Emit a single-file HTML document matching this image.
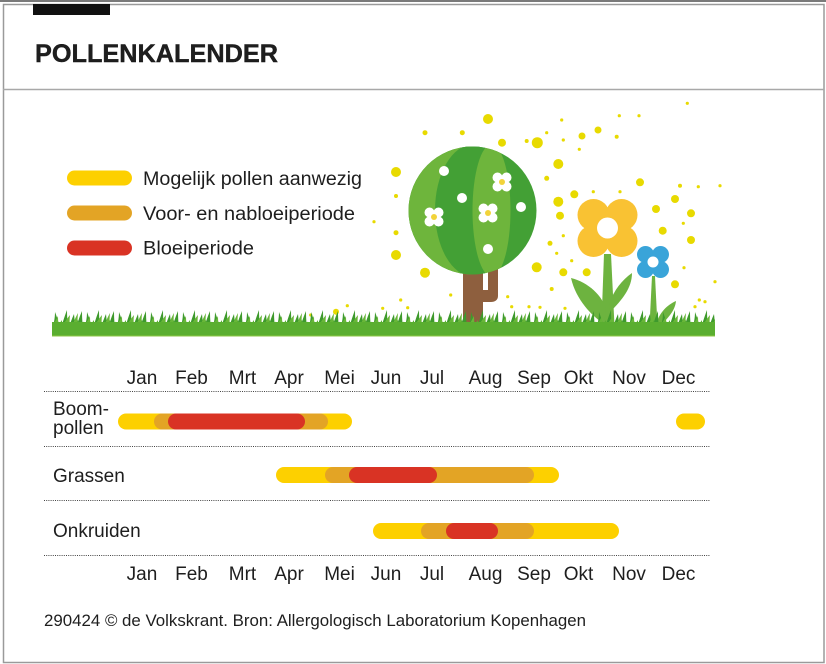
<!DOCTYPE html>
<html><head><meta charset="utf-8"><style>
html,body{margin:0;padding:0;background:#fff;}
svg{display:block;}
text{font-family:"Liberation Sans",sans-serif;fill:#1e1e1e;}
</style></head><body>
<svg width="826" height="664" viewBox="0 0 826 664" xmlns="http://www.w3.org/2000/svg">
<defs>
<pattern id="gd" x="52" y="308" width="32" height="28" patternUnits="userSpaceOnUse">
<path fill="#3E9A2C" d="M-1,28 C1,18 3,12 3,4 C6,12 8,18 9,28 Z M7,28 C10,16 12,10 15,2 C15,12 16,18 17,28 Z M15,28 C17,18 19,13 22,6 C23,15 23,20 24,28 Z M22,28 C25,16 27,10 30,3 C30,14 31,20 33,28 Z"/>
<path fill="#68B638" d="M-3,28 C0,18 3,14 6,8 C6,16 7,20 10,28 Z M8,28 C10,18 13,13 18,7 C17,16 18,21 20,28 Z M18,28 C20,18 22,12 26,5 C25,14 26,20 28,28 Z M27,28 C29,19 31,14 35,9 C34,17 34,21 35,28 Z"/>
<path fill="#57AD30" d="M3,28 C5,21 6,17 10,12 C10,19 11,23 12,28 Z M21,28 C22,21 23,17 26,12 C27,19 27,23 28,28 Z"/>
</pattern>
<clipPath id="cc"><circle cx="472.5" cy="210.5" r="64"/></clipPath>
</defs>

<!-- frame -->
<rect x="0" y="0" width="826" height="2" fill="#7a7a7a"/>
<rect x="3.5" y="4.5" width="820.5" height="658" fill="none" stroke="#9a9a9a" stroke-width="1.5"/>
<line x1="3" y1="89.5" x2="824" y2="89.5" stroke="#a8a8a8" stroke-width="1.5"/>
<rect x="33" y="4" width="77" height="11" fill="#111"/>

<text x="35" y="62" font-size="25" font-weight="bold" fill="#111" stroke="#111" stroke-width="0.4" textLength="243" lengthAdjust="spacingAndGlyphs">POLLENKALENDER</text>

<!-- legend -->
<g stroke-linecap="round" stroke-width="15">
<line x1="74.5" y1="178" x2="124.5" y2="178" stroke="#FDD000"/>
<line x1="74.5" y1="213" x2="124.5" y2="213" stroke="#E3A425"/>
<line x1="74.5" y1="248" x2="124.5" y2="248" stroke="#D93324"/>
</g>
<text x="143" y="185" font-size="19" textLength="219" lengthAdjust="spacingAndGlyphs">Mogelijk pollen aanwezig</text>
<text x="143" y="220" font-size="19" textLength="212" lengthAdjust="spacingAndGlyphs">Voor- en nabloeiperiode</text>
<text x="143" y="254.5" font-size="19" textLength="111" lengthAdjust="spacingAndGlyphs">Bloeiperiode</text>

<!-- tree -->
<path d="M463,272 L483,272 L483,290 L488,290 L488,268 L498,268 L498,296 C498,300 495,302 491,302 L483,302 L483,332 L463,332 Z" fill="#8E5F3E"/>
<g clip-path="url(#cc)">
<rect x="400" y="140" width="150" height="140" fill="#43A035"/>
<rect x="400" y="140" width="73" height="140" fill="#6EB53C"/>
<ellipse cx="473" cy="210.5" rx="38" ry="66" fill="#43A035"/>
<ellipse cx="491.5" cy="210.5" rx="19" ry="66" fill="#6EB53C"/>
</g>
<g fill="#fff">
<circle cx="444" cy="171" r="5"/>
<circle cx="462" cy="198" r="5"/>
<circle cx="521" cy="207" r="5"/>
<circle cx="488" cy="249" r="5"/>
</g>
<g>
<g transform="translate(502,182)"><circle cx="-4.5" cy="-4.5" r="5" fill="#fff"/><circle cx="4.5" cy="-4.5" r="5" fill="#fff"/><circle cx="-4.5" cy="4.5" r="5" fill="#fff"/><circle cx="4.5" cy="4.5" r="5" fill="#fff"/><circle r="3" fill="#F2D33A"/></g>
<g transform="translate(434,217)"><circle cx="-4.5" cy="-4.5" r="5" fill="#fff"/><circle cx="4.5" cy="-4.5" r="5" fill="#fff"/><circle cx="-4.5" cy="4.5" r="5" fill="#fff"/><circle cx="4.5" cy="4.5" r="5" fill="#fff"/><circle r="3" fill="#F2D33A"/></g>
<g transform="translate(488,213)"><circle cx="-4.5" cy="-4.5" r="5" fill="#fff"/><circle cx="4.5" cy="-4.5" r="5" fill="#fff"/><circle cx="-4.5" cy="4.5" r="5" fill="#fff"/><circle cx="4.5" cy="4.5" r="5" fill="#fff"/><circle r="3" fill="#F2D33A"/></g>
</g>

<!-- flowers -->
<g fill="#6DB33F">
<path d="M604,254 L611,254 L615,336 L601,336 Z"/>
<path d="M604,324 C592,316 576,300 571,278 C588,282 603,296 606,310 Z"/>
<path d="M609,304 C614,290 622,280 632,273 C632,288 622,300 610,312 Z"/>
<path d="M652,276 L655,276 L658,336 L649,336 Z"/>
<path d="M656,324 C660,312 667,305 676,301 C675,312 666,320 656,330 Z"/>
</g>
<g fill="#F9C233">
<circle cx="593.5" cy="215" r="16"/><circle cx="621.5" cy="215" r="16"/>
<circle cx="593.5" cy="241" r="16"/><circle cx="621.5" cy="241" r="16"/>
<rect x="593" y="214" width="29" height="28"/>
</g>
<circle cx="607.5" cy="228" r="10.5" fill="#fff"/>
<g fill="#39A4D9">
<circle cx="645.5" cy="254.5" r="8.5"/><circle cx="660.5" cy="254.5" r="8.5"/>
<circle cx="645.5" cy="269.5" r="8.5"/><circle cx="660.5" cy="269.5" r="8.5"/>
<rect x="645" y="254" width="16" height="16"/>
</g>
<circle cx="653" cy="262" r="5.5" fill="#fff"/>

<!-- pollen dots -->
<g fill="#E8DA00">
<circle cx="488" cy="119" r="5"/><circle cx="425" cy="132.7" r="2.5"/><circle cx="462.3" cy="132.7" r="2.5"/>
<circle cx="502" cy="142.7" r="4"/><circle cx="526.7" cy="141" r="2"/><circle cx="537.3" cy="142.7" r="5.5"/>
<circle cx="546.7" cy="132.7" r="1.6"/><circle cx="561.7" cy="120" r="1.6"/><circle cx="563.3" cy="140" r="1.6"/>
<circle cx="579.3" cy="149.3" r="1.6"/><circle cx="582" cy="136" r="3.5"/><circle cx="598" cy="130" r="3.5"/>
<circle cx="616.7" cy="136.7" r="2"/><circle cx="619.3" cy="115.7" r="1.6"/><circle cx="639" cy="115.7" r="1.6"/>
<circle cx="687.3" cy="103.3" r="1.6"/><circle cx="558.3" cy="164" r="5"/><circle cx="546.7" cy="178.3" r="2.5"/>
<circle cx="396" cy="172" r="5"/><circle cx="396" cy="196" r="2"/><circle cx="396" cy="232.7" r="2.5"/>
<circle cx="396" cy="255" r="5"/><circle cx="425" cy="272.7" r="5"/><circle cx="536.7" cy="267.3" r="5"/>
<circle cx="550" cy="243.3" r="2.5"/><circle cx="558.3" cy="201.7" r="5"/><circle cx="560" cy="215.7" r="4"/>
<circle cx="574.3" cy="194.3" r="4"/><circle cx="593.3" cy="191.7" r="1.6"/><circle cx="620" cy="191.7" r="1.6"/>
<circle cx="640" cy="182.3" r="4"/><circle cx="563.3" cy="235.7" r="1.6"/><circle cx="556.7" cy="253.3" r="1.6"/>
<circle cx="571.7" cy="260.7" r="1.6"/><circle cx="563.3" cy="272.3" r="4"/><circle cx="586.7" cy="272.3" r="4"/>
<circle cx="551.7" cy="289" r="2"/><circle cx="656" cy="209" r="4"/><circle cx="675" cy="199" r="4"/>
<circle cx="680" cy="185.7" r="2"/><circle cx="698.3" cy="186.7" r="1.6"/><circle cx="720" cy="185.7" r="1.6"/>
<circle cx="691" cy="213.3" r="4"/><circle cx="683.3" cy="223.3" r="1.6"/><circle cx="662.7" cy="230.7" r="4"/>
<circle cx="691" cy="240" r="4"/><circle cx="684" cy="267.7" r="1.6"/><circle cx="715" cy="281.7" r="1.6"/>
<circle cx="675" cy="284.3" r="4"/><circle cx="699.3" cy="300" r="1.6"/><circle cx="705" cy="301.7" r="1.6"/>
<circle cx="695" cy="306.7" r="1.6"/><circle cx="450.7" cy="295" r="1.6"/><circle cx="400.7" cy="300" r="1.6"/>
<circle cx="507.7" cy="296.7" r="1.6"/><circle cx="511.7" cy="306.7" r="1.6"/><circle cx="529" cy="306.7" r="1.6"/>
<circle cx="540" cy="307.3" r="1.6"/><circle cx="565" cy="308.3" r="1.6"/><circle cx="374" cy="221.7" r="1.6"/>
<circle cx="310.7" cy="315" r="1.6"/><circle cx="336" cy="311.7" r="3"/><circle cx="347.3" cy="305.7" r="1.6"/>
<circle cx="382.7" cy="308.3" r="1.6"/><circle cx="407.7" cy="307.7" r="1.6"/>
</g>

<!-- grass -->
<rect x="52" y="308" width="663" height="28" fill="url(#gd)"/>
<rect x="52" y="322" width="663" height="14" fill="#5AAE30"/>
<line x1="52" y1="336" x2="715" y2="336" stroke="#8DC744" stroke-width="1"/>

<!-- month labels -->
<g font-size="19" text-anchor="middle">
<text x="142" y="384">Jan</text><text x="191.5" y="384">Feb</text><text x="242.5" y="384">Mrt</text>
<text x="289" y="384">Apr</text><text x="339.5" y="384">Mei</text><text x="386" y="384">Jun</text>
<text x="432" y="384">Jul</text><text x="485.5" y="384">Aug</text><text x="534" y="384">Sep</text>
<text x="578.5" y="384">Okt</text><text x="629" y="384">Nov</text><text x="678.5" y="384">Dec</text>
<text x="142" y="580">Jan</text><text x="191.5" y="580">Feb</text><text x="242.5" y="580">Mrt</text>
<text x="289" y="580">Apr</text><text x="339.5" y="580">Mei</text><text x="386" y="580">Jun</text>
<text x="432" y="580">Jul</text><text x="485.5" y="580">Aug</text><text x="534" y="580">Sep</text>
<text x="578.5" y="580">Okt</text><text x="629" y="580">Nov</text><text x="678.5" y="580">Dec</text>
</g>

<!-- dotted lines -->
<g stroke="#444" stroke-width="1" stroke-dasharray="1 1.2">
<line x1="44" y1="391.5" x2="710" y2="391.5"/>
<line x1="44" y1="446.5" x2="710" y2="446.5"/>
<line x1="44" y1="500.5" x2="710" y2="500.5"/>
<line x1="44" y1="555.5" x2="710" y2="555.5"/>
</g>

<!-- row labels -->
<g font-size="19">
<text x="53" y="415">Boom-</text>
<text x="53" y="434">pollen</text>
<text x="53" y="482">Grassen</text>
<text x="53" y="537">Onkruiden</text>
</g>

<!-- bars -->
<g stroke-linecap="round" stroke-width="16">
<line x1="126" y1="421.5" x2="344" y2="421.5" stroke="#FDD000"/>
<line x1="162" y1="421.5" x2="320" y2="421.5" stroke="#E3A425"/>
<line x1="176" y1="421.5" x2="297" y2="421.5" stroke="#D93324"/>
<line x1="684" y1="421.5" x2="697" y2="421.5" stroke="#FDD000"/>

<line x1="284" y1="475" x2="551" y2="475" stroke="#FDD000"/>
<line x1="333" y1="475" x2="526" y2="475" stroke="#E3A425"/>
<line x1="357" y1="475" x2="429" y2="475" stroke="#D93324"/>

<line x1="381" y1="531" x2="611" y2="531" stroke="#FDD000"/>
<line x1="429" y1="531" x2="526" y2="531" stroke="#E3A425"/>
<line x1="454" y1="531" x2="490" y2="531" stroke="#D93324"/>
</g>

<text x="44" y="626" font-size="17" fill="#333" textLength="542" lengthAdjust="spacingAndGlyphs">290424 © de Volkskrant. Bron: Allergologisch Laboratorium Kopenhagen</text>
</svg>
</body></html>
